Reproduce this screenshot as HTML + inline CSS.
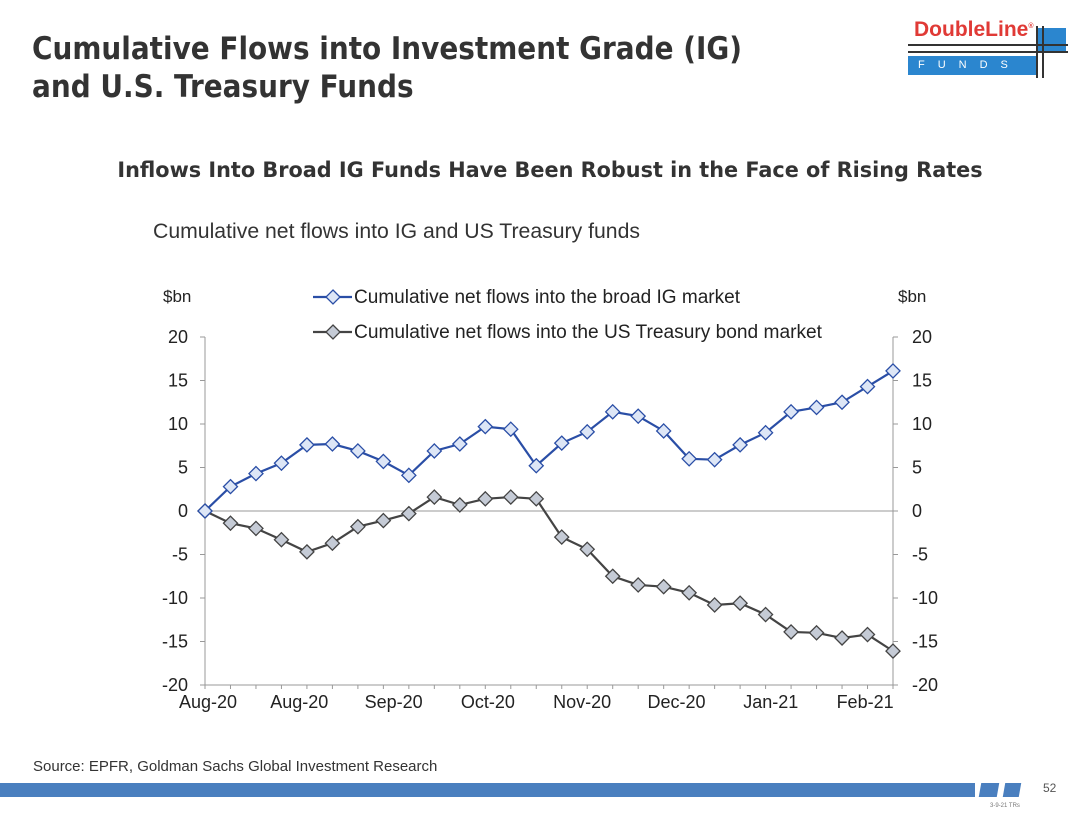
<!DOCTYPE html>
<html><head><meta charset="utf-8"><style>
body{margin:0;width:1080px;height:823px;background:#fff;position:relative;overflow:hidden;font-family:"Liberation Sans",sans-serif}
.abs{position:absolute}
</style></head><body>
<div class="abs" style="left:32px;top:30px;font-size:31px;font-weight:bold;color:#333;line-height:38px;font-family:'DejaVu Sans',sans-serif;transform:scaleX(0.9);transform-origin:left">Cumulative Flows into Investment Grade (IG)<br>and U.S. Treasury Funds</div>
<div class="abs" style="left:908px;top:18px;width:160px;height:60px">
 <div class="abs" style="left:6px;top:0;font-size:21px;font-weight:bold;color:#e03a36">DoubleLine<sup style="font-size:7px">®</sup></div>
 <div class="abs" style="left:130px;top:10px;width:28px;height:24px;background:#2b86cf"></div>
 <div class="abs" style="left:0;top:38px;width:128px;height:19px;background:#2b86cf;color:#fff;font-size:11px;letter-spacing:13px;line-height:19px;text-indent:10px">FUNDS</div>
 <div class="abs" style="left:0;top:26px;width:160px;height:2px;background:#333"></div>
 <div class="abs" style="left:0;top:33px;width:160px;height:2px;background:#333"></div>
 <div class="abs" style="left:128px;top:8px;width:2px;height:52px;background:#333"></div>
 <div class="abs" style="left:134px;top:8px;width:2px;height:52px;background:#333"></div>
</div>
<div class="abs" style="left:0;width:1100px;top:158px;text-align:center;font-size:21px;font-weight:bold;color:#333;font-family:'DejaVu Sans',sans-serif;transform:scaleX(0.99);transform-origin:center">Inflows Into Broad IG Funds Have Been Robust in the Face of Rising Rates</div>
<svg class="abs" style="left:0;top:0" width="1080" height="823">
<text x="153" y="238" font-size="21" fill="#333" textLength="487" lengthAdjust="spacingAndGlyphs">Cumulative net flows into IG and US Treasury funds</text>
<g id="axes"></g><g id="series"></g>
</svg>
<div class="abs" style="left:33px;top:758px;font-size:15px;color:#333">Source: EPFR, Goldman Sachs Global Investment Research</div>
<div class="abs" style="left:0;top:783px;width:975px;height:14px;background:#4a7fbf"></div>
<div class="abs" style="left:980px;top:783px;width:18px;height:14px;background:#4a7fbf;transform:skewX(-10deg)"></div>
<div class="abs" style="left:1004px;top:783px;width:16px;height:14px;background:#4a7fbf;transform:skewX(-10deg)"></div>
<div class="abs" style="left:1043px;top:781px;font-size:12px;color:#555">52</div>
<div class="abs" style="left:990px;top:803px;font-size:6px;color:#777">3-9-21 TRs</div>
<script>
const categories=["Aug-20","","","","Aug-20","","","","Sep-20","","","","Oct-20","","","","Nov-20","","","","Dec-20","","","","Jan-21","","","Feb-21"];
const xTickLabels=["Aug-20","Aug-20","Sep-20","Oct-20","Nov-20","Dec-20","Jan-21","Feb-21"];
const yTicks=[20,15,10,5,0,-5,-10,-15,-20];
const igFlows=[0,2.8,4.3,5.5,7.6,7.7,6.9,5.7,4.1,6.9,7.7,9.7,9.4,5.2,7.8,9.1,11.4,10.9,9.2,6.0,5.9,7.6,9.0,11.4,11.9,12.5,14.3,16.1];
const ustFlows=[0,-1.4,-2.0,-3.3,-4.7,-3.7,-1.8,-1.1,-0.3,1.6,0.7,1.4,1.6,1.4,-3.0,-4.4,-7.5,-8.5,-8.7,-9.4,-10.8,-10.6,-11.9,-13.9,-14.0,-14.6,-14.2,-16.1];
const NS="http://www.w3.org/2000/svg";
const X0=205,X1=893,Y0=337,Y1=685;
const xs=i=>X0+(X1-X0)*i/(categories.length-1);
const ys=v=>Y0+(20-v)*(Y1-Y0)/40;
const ax=document.getElementById('axes'),se=document.getElementById('series');
function mk(t,a,p){const e=document.createElementNS(NS,t);for(const k in a)e.setAttribute(k,a[k]);p.appendChild(e);return e;}
let e;
e=mk('line',{x1:X0,y1:Y0,x2:X0,y2:Y1,stroke:'#999'},ax);


e=mk('line',{x1:X1,y1:Y0,x2:X1,y2:Y1,stroke:'#999'},ax);


e=mk('line',{x1:X0,y1:Y1,x2:X1,y2:Y1,stroke:'#999'},ax);


e=mk('line',{x1:X0,y1:ys(0),x2:X1,y2:ys(0),stroke:'#999'},ax);


yTicks.forEach(v=>{const y=ys(v);
 mk('line',{x1:X0-5,y1:y,x2:X0,y2:y,stroke:'#999'},ax);
 mk('line',{x1:X1,y1:y,x2:X1+5,y2:y,stroke:'#999'},ax);
 e=mk('text',{x:188,y:y+6,'font-size':18,'text-anchor':'end',fill:'#222'},ax);e.textContent=v;
 
 
 e=mk('text',{x:912,y:y+6,'font-size':18,fill:'#222'},ax);e.textContent=v;
 
 
});
categories.forEach((c,i)=>{mk('line',{x1:xs(i),y1:Y1,x2:xs(i),y2:Y1+4,stroke:'#999'},ax);});
xTickLabels.forEach((l,k)=>{
 e=mk('text',{x:205+k*94.3+(k==0?3:0),y:Y1+23,'font-size':18,'text-anchor':'middle',fill:'#222'},ax);e.textContent=l;
 
 
});
e=mk('text',{x:163,y:302,'font-size':17,fill:'#222'},ax);e.textContent='$bn';


e=mk('text',{x:898,y:302,'font-size':17,fill:'#222'},ax);e.textContent='$bn';


function series(vals,col,fill,name){
 e=mk('polyline',{points:vals.map((v,i)=>xs(i)+','+ys(v)).join(' '),fill:'none',stroke:col,'stroke-width':2.2},se);
 
 
 vals.forEach((v,i)=>{const x=xs(i),y=ys(v);
  e=mk('polygon',{points:`${x},${y-7} ${x+7},${y} ${x},${y+7} ${x-7},${y}`,fill:fill,stroke:col,'stroke-width':1.3},se);
  
  });
}
series(ustFlows,'#444','#c5cbd6','treasury');
series(igFlows,'#2a4ea6','#dde6f6','ig');
function leg(y,col,fill,txt,name,w){
 const g=mk('g',{},ax);
 
 
 mk('line',{x1:313,y1:y,x2:352,y2:y,stroke:col,'stroke-width':2.2},g);
 mk('polygon',{points:`333,${y-7} 340,${y} 333,${y+7} 326,${y}`,fill:fill,stroke:col,'stroke-width':1.3},g);
 const t=mk('text',{x:354,y:y+6,'font-size':19,fill:'#222',textLength:w,lengthAdjust:'spacingAndGlyphs'},g);t.textContent=txt;
}
leg(297,'#2a4ea6','#dde6f6','Cumulative net flows into the broad IG market','legend-ig',386);
leg(332,'#444','#c5cbd6','Cumulative net flows into the US Treasury bond market','legend-treasury',468);
</script>
</body></html>
